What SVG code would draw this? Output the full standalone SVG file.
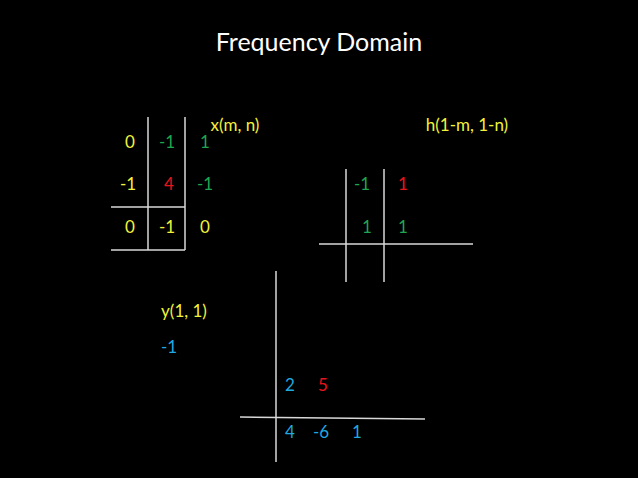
<svg xmlns="http://www.w3.org/2000/svg" width="638" height="478" viewBox="0 0 638 478">
<style>
text{font-family:Lato,"Liberation Sans",sans-serif;font-size:17px;text-anchor:middle}
.y{fill:#f2f23a}.g{fill:#1fa650}.r{fill:#e8141c}.b{fill:#1fa9e0}
line{stroke:#d9d9d9;stroke-width:1.5}
</style>
<rect width="638" height="478" fill="#000"/>
<text x="319" y="51" style="font-size:25px" fill="#fff">Frequency Domain</text>
<g id="connectors">
<line x1="148" y1="117" x2="148" y2="250"/>
<line x1="185" y1="117" x2="185" y2="250"/>
<line x1="111" y1="207" x2="185" y2="207"/>
<line x1="111" y1="250" x2="185" y2="250"/>
<line x1="346" y1="169" x2="346" y2="282"/>
<line x1="384" y1="169" x2="384" y2="282"/>
<line x1="319" y1="244" x2="473" y2="244"/>
<line x1="276" y1="271" x2="276" y2="462"/>
<line x1="240" y1="417" x2="425" y2="419"/>
</g>
<g id="x">
<text x="235" y="131" class="y">x(m, n)</text>
<text x="130" y="148" class="y">0</text><text x="167" y="148" class="g">-1</text><text x="205" y="148" class="g">1</text>
<text x="128" y="190" class="y">-1</text><text x="169" y="190" class="r">4</text><text x="205" y="190" class="g">-1</text>
<text x="130" y="233" class="y">0</text><text x="167" y="233" class="y">-1</text><text x="205" y="233" class="y">0</text>
</g>
<g id="h">
<text x="467" y="131" class="y">h(1-m, 1-n)</text>
<text x="362" y="190" class="g">-1</text><text x="403" y="190" class="r">1</text>
<text x="367" y="233" class="g">1</text><text x="403" y="233" class="g">1</text>
</g>
<g id="y">
<text x="184" y="317" class="y">y(1, 1)</text>
<text x="169" y="353" class="b">-1</text>
<text x="290" y="391" class="b">2</text><text x="323" y="391" class="r">5</text>
<text x="290" y="438" class="b">4</text><text x="321" y="438" class="b">-6</text><text x="357" y="438" class="b">1</text>
</g>
</svg>
